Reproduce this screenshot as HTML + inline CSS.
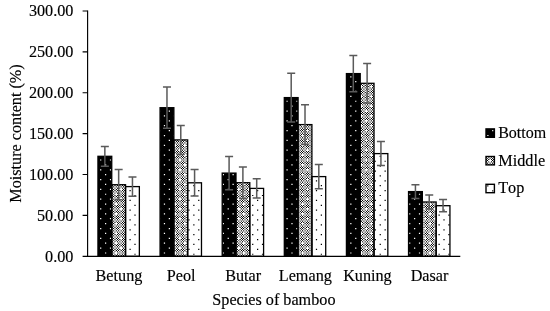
<!DOCTYPE html>
<html><head><meta charset="utf-8"><title>Moisture content by species of bamboo</title>
<style>html,body{margin:0;padding:0;background:#fff}svg{display:block}</style></head>
<body>
<svg width="550" height="311" viewBox="0 0 550 311">
<rect width="550" height="311" fill="#fff"/>
<defs><clipPath id="c0"><rect x="97.95" y="156.3" width="13.8" height="100"/></clipPath><clipPath id="c1"><rect x="111.76" y="184.7" width="13.8" height="71.6"/></clipPath><clipPath id="c2"><rect x="125.56" y="186.6" width="13.8" height="69.7"/></clipPath><clipPath id="c3"><rect x="160.07" y="107.7" width="13.8" height="148.6"/></clipPath><clipPath id="c4"><rect x="173.87" y="139.9" width="13.8" height="116.4"/></clipPath><clipPath id="c5"><rect x="187.68" y="182.8" width="13.8" height="73.5"/></clipPath><clipPath id="c6"><rect x="222.19" y="173.1" width="13.8" height="83.2"/></clipPath><clipPath id="c7"><rect x="235.99" y="182.7" width="13.8" height="73.6"/></clipPath><clipPath id="c8"><rect x="249.79" y="188.4" width="13.8" height="67.9"/></clipPath><clipPath id="c9"><rect x="284.3" y="97.6" width="13.8" height="158.7"/></clipPath><clipPath id="c10"><rect x="298.11" y="124.6" width="13.8" height="131.7"/></clipPath><clipPath id="c11"><rect x="311.91" y="176.6" width="13.8" height="79.7"/></clipPath><clipPath id="c12"><rect x="346.42" y="73.6" width="13.8" height="182.7"/></clipPath><clipPath id="c13"><rect x="360.22" y="83.3" width="13.8" height="173"/></clipPath><clipPath id="c14"><rect x="374.03" y="153.6" width="13.8" height="102.7"/></clipPath><clipPath id="c15"><rect x="408.54" y="191.6" width="13.8" height="64.7"/></clipPath><clipPath id="c16"><rect x="422.34" y="202" width="13.8" height="54.3"/></clipPath><clipPath id="c17"><rect x="436.14" y="205.7" width="13.8" height="50.6"/></clipPath><clipPath id="l0"><rect x="486" y="128.9" width="8.4" height="8.4"/></clipPath><clipPath id="l1"><rect x="486" y="156.5" width="8.4" height="8.4"/></clipPath><clipPath id="l2"><rect x="486" y="184.3" width="8.4" height="8.4"/></clipPath><filter id="ct" filterUnits="userSpaceOnUse" x="0" y="0" width="550" height="311" color-interpolation-filters="sRGB"><feComponentTransfer><feFuncR type="linear" slope="1.8" intercept="-0.28"/><feFuncG type="linear" slope="1.8" intercept="-0.28"/><feFuncB type="linear" slope="1.8" intercept="-0.28"/></feComponentTransfer></filter></defs>
<rect x="97.95" y="156.3" width="13.8" height="100" fill="#000"/>
<g clip-path="url(#c0)" stroke-width="1.2263" fill="none"><path d="M105.6 154.4881V256.3" stroke="#fff" stroke-dasharray="1.2237 8.5663"/><path d="M100.695 154.4881V256.3M110.505 154.4881V256.3" stroke="#fff" stroke-dasharray="1.2237 8.5663" stroke-dashoffset="4.895"/></g>
<g filter="url(#ct)"><rect x="111.76" y="184.7" width="13.8" height="71.6" fill="#fff"/><g clip-path="url(#c1)" stroke-width="1.2263" fill="none"><path d="M113.7675 183.8581V256.3M118.6725 183.8581V256.3M123.5775 183.8581V256.3" stroke="#000" stroke-dasharray="1.2237 1.2237"/><path d="M112.5412 183.8581V256.3M114.9937 183.8581V256.3M117.4462 183.8581V256.3M119.8987 183.8581V256.3M122.3512 183.8581V256.3M124.8037 183.8581V256.3" stroke="#000" stroke-dasharray="1.2237 1.2237" stroke-dashoffset="1.2237"/><path d="M116.22 183.8581V256.3M126.03 183.8581V256.3" stroke="#000" stroke-dasharray="1.2237 1.2237 1.2237 1.2237 1.2237 3.6712" stroke-dashoffset="7.3425"/><path d="M111.315 183.8581V256.3M121.125 183.8581V256.3" stroke="#000" stroke-dasharray="1.2237 1.2237 1.2237 1.2237 1.2237 3.6712" stroke-dashoffset="2.4475"/></g></g>
<rect x="125.56" y="186.6" width="13.8" height="69.7" fill="#fff"/>
<g clip-path="url(#c2)" stroke-width="1.2263" fill="none"><path d="M125.19 185.1081V256.3M135 185.1081V256.3" stroke="#000" stroke-dasharray="1.2237 8.5663"/><path d="M130.095 185.1081V256.3M139.905 185.1081V256.3" stroke="#000" stroke-dasharray="1.2237 8.5663" stroke-dashoffset="4.895"/></g>
<rect x="97.95" y="156.3" width="13.8" height="100" fill="none" stroke="#000" stroke-width="1.3"/>
<rect x="111.76" y="184.7" width="13.8" height="71.6" fill="none" stroke="#000" stroke-width="1.3"/>
<rect x="125.56" y="186.6" width="13.8" height="69.7" fill="none" stroke="#000" stroke-width="1.3"/>
<path d="M104.85 146.45V166.15M100.85 146.45h8M100.85 166.15h8" stroke="#5a5a5a" stroke-width="1.5" fill="none"/>
<path d="M118.66 169.6V199.8M114.66 169.6h8M114.66 199.8h8" stroke="#5a5a5a" stroke-width="1.5" fill="none"/>
<path d="M132.46 177V196.2M128.46 177h8M128.46 196.2h8" stroke="#5a5a5a" stroke-width="1.5" fill="none"/>
<rect x="160.07" y="107.7" width="13.8" height="148.6" fill="#000"/>
<g clip-path="url(#c3)" stroke-width="1.2263" fill="none"><path d="M164.46 105.5381V256.3M174.27 105.5381V256.3" stroke="#fff" stroke-dasharray="1.2237 8.5663"/><path d="M159.555 105.5381V256.3M169.365 105.5381V256.3" stroke="#fff" stroke-dasharray="1.2237 8.5663" stroke-dashoffset="4.895"/></g>
<g filter="url(#ct)"><rect x="173.87" y="139.9" width="13.8" height="116.4" fill="#fff"/><g clip-path="url(#c4)" stroke-width="1.2263" fill="none"><path d="M177.5325 134.9081V256.3M182.4375 134.9081V256.3M187.3425 134.9081V256.3" stroke="#000" stroke-dasharray="1.2237 1.2237"/><path d="M173.8538 134.9081V256.3M176.3063 134.9081V256.3M178.7588 134.9081V256.3M181.2113 134.9081V256.3M183.6638 134.9081V256.3M186.1163 134.9081V256.3" stroke="#000" stroke-dasharray="1.2237 1.2237" stroke-dashoffset="1.2237"/><path d="M175.08 134.9081V256.3M184.89 134.9081V256.3" stroke="#000" stroke-dasharray="1.2237 1.2237 1.2237 1.2237 1.2237 3.6712" stroke-dashoffset="7.3425"/><path d="M179.985 134.9081V256.3" stroke="#000" stroke-dasharray="1.2237 1.2237 1.2237 1.2237 1.2237 3.6712" stroke-dashoffset="2.4475"/></g></g>
<rect x="187.68" y="182.8" width="13.8" height="73.5" fill="#fff"/>
<g clip-path="url(#c5)" stroke-width="1.2263" fill="none"><path d="M193.86 175.3181V256.3" stroke="#000" stroke-dasharray="1.2237 8.5663"/><path d="M188.955 175.3181V256.3M198.765 175.3181V256.3" stroke="#000" stroke-dasharray="1.2237 8.5663" stroke-dashoffset="4.895"/></g>
<rect x="160.07" y="107.7" width="13.8" height="148.6" fill="none" stroke="#000" stroke-width="1.3"/>
<rect x="173.87" y="139.9" width="13.8" height="116.4" fill="none" stroke="#000" stroke-width="1.3"/>
<rect x="187.68" y="182.8" width="13.8" height="73.5" fill="none" stroke="#000" stroke-width="1.3"/>
<path d="M166.97 87.1V128.3M162.97 87.1h8M162.97 128.3h8" stroke="#5a5a5a" stroke-width="1.5" fill="none"/>
<path d="M180.78 125.4V154.4M176.78 125.4h8M176.78 154.4h8" stroke="#5a5a5a" stroke-width="1.5" fill="none"/>
<path d="M194.58 169.6V196M190.58 169.6h8M190.58 196h8" stroke="#5a5a5a" stroke-width="1.5" fill="none"/>
<rect x="222.19" y="173.1" width="13.8" height="83.2" fill="#000"/>
<g clip-path="url(#c6)" stroke-width="1.2263" fill="none"><path d="M223.32 164.2781V256.3M233.13 164.2781V256.3" stroke="#fff" stroke-dasharray="1.2237 8.5663"/><path d="M228.225 164.2781V256.3" stroke="#fff" stroke-dasharray="1.2237 8.5663" stroke-dashoffset="4.895"/></g>
<g filter="url(#ct)"><rect x="235.99" y="182.7" width="13.8" height="73.6" fill="#fff"/><g clip-path="url(#c7)" stroke-width="1.2263" fill="none"><path d="M236.3925 174.0681V256.3M241.2975 174.0681V256.3M246.2025 174.0681V256.3" stroke="#000" stroke-dasharray="1.2237 1.2237"/><path d="M237.6188 174.0681V256.3M240.0713 174.0681V256.3M242.5238 174.0681V256.3M244.9763 174.0681V256.3M247.4288 174.0681V256.3M249.8813 174.0681V256.3" stroke="#000" stroke-dasharray="1.2237 1.2237" stroke-dashoffset="1.2237"/><path d="M243.75 174.0681V256.3" stroke="#000" stroke-dasharray="1.2237 1.2237 1.2237 1.2237 1.2237 3.6712" stroke-dashoffset="7.3425"/><path d="M238.845 174.0681V256.3M248.655 174.0681V256.3" stroke="#000" stroke-dasharray="1.2237 1.2237 1.2237 1.2237 1.2237 3.6712" stroke-dashoffset="2.4475"/></g></g>
<rect x="249.79" y="188.4" width="13.8" height="67.9" fill="#fff"/>
<g clip-path="url(#c8)" stroke-width="1.2263" fill="none"><path d="M252.72 185.1081V256.3M262.53 185.1081V256.3" stroke="#000" stroke-dasharray="1.2237 8.5663"/><path d="M257.625 185.1081V256.3" stroke="#000" stroke-dasharray="1.2237 8.5663" stroke-dashoffset="4.895"/></g>
<rect x="222.19" y="173.1" width="13.8" height="83.2" fill="none" stroke="#000" stroke-width="1.3"/>
<rect x="235.99" y="182.7" width="13.8" height="73.6" fill="none" stroke="#000" stroke-width="1.3"/>
<rect x="249.79" y="188.4" width="13.8" height="67.9" fill="none" stroke="#000" stroke-width="1.3"/>
<path d="M229.09 156.4V189.8M225.09 156.4h8M225.09 189.8h8" stroke="#5a5a5a" stroke-width="1.5" fill="none"/>
<path d="M242.89 167V198.4M238.89 167h8M238.89 198.4h8" stroke="#5a5a5a" stroke-width="1.5" fill="none"/>
<path d="M256.7 178.7V198.1M252.7 178.7h8M252.7 198.1h8" stroke="#5a5a5a" stroke-width="1.5" fill="none"/>
<rect x="284.3" y="97.6" width="13.8" height="158.7" fill="#000"/>
<g clip-path="url(#c9)" stroke-width="1.2263" fill="none"><path d="M291.99 95.7481V256.3" stroke="#fff" stroke-dasharray="1.2237 8.5663"/><path d="M287.085 95.7481V256.3M296.895 95.7481V256.3" stroke="#fff" stroke-dasharray="1.2237 8.5663" stroke-dashoffset="4.895"/></g>
<g filter="url(#ct)"><rect x="298.11" y="124.6" width="13.8" height="131.7" fill="#fff"/><g clip-path="url(#c10)" stroke-width="1.2263" fill="none"><path d="M300.1575 115.3281V256.3M305.0625 115.3281V256.3M309.9675 115.3281V256.3" stroke="#000" stroke-dasharray="1.2237 1.2237"/><path d="M298.9312 115.3281V256.3M301.3838 115.3281V256.3M303.8363 115.3281V256.3M306.2887 115.3281V256.3M308.7412 115.3281V256.3M311.1937 115.3281V256.3" stroke="#000" stroke-dasharray="1.2237 1.2237" stroke-dashoffset="1.2237"/><path d="M302.61 115.3281V256.3M312.42 115.3281V256.3" stroke="#000" stroke-dasharray="1.2237 1.2237 1.2237 1.2237 1.2237 3.6712" stroke-dashoffset="7.3425"/><path d="M297.705 115.3281V256.3M307.515 115.3281V256.3" stroke="#000" stroke-dasharray="1.2237 1.2237 1.2237 1.2237 1.2237 3.6712" stroke-dashoffset="2.4475"/></g></g>
<rect x="311.91" y="176.6" width="13.8" height="79.7" fill="#fff"/>
<g clip-path="url(#c11)" stroke-width="1.2263" fill="none"><path d="M311.58 175.3181V256.3M321.39 175.3181V256.3" stroke="#000" stroke-dasharray="1.2237 8.5663"/><path d="M316.485 175.3181V256.3M326.295 175.3181V256.3" stroke="#000" stroke-dasharray="1.2237 8.5663" stroke-dashoffset="4.895"/></g>
<rect x="284.3" y="97.6" width="13.8" height="158.7" fill="none" stroke="#000" stroke-width="1.3"/>
<rect x="298.11" y="124.6" width="13.8" height="131.7" fill="none" stroke="#000" stroke-width="1.3"/>
<rect x="311.91" y="176.6" width="13.8" height="79.7" fill="none" stroke="#000" stroke-width="1.3"/>
<path d="M291.2 73.2V122M287.2 73.2h8M287.2 122h8" stroke="#5a5a5a" stroke-width="1.5" fill="none"/>
<path d="M305.01 104.8V144.4M301.01 104.8h8M301.01 144.4h8" stroke="#5a5a5a" stroke-width="1.5" fill="none"/>
<path d="M318.81 164.4V188.8M314.81 164.4h8M314.81 188.8h8" stroke="#5a5a5a" stroke-width="1.5" fill="none"/>
<rect x="346.42" y="73.6" width="13.8" height="182.7" fill="#000"/>
<g clip-path="url(#c12)" stroke-width="1.2263" fill="none"><path d="M350.85 66.3781V256.3M360.66 66.3781V256.3" stroke="#fff" stroke-dasharray="1.2237 8.5663"/><path d="M345.945 66.3781V256.3M355.755 66.3781V256.3" stroke="#fff" stroke-dasharray="1.2237 8.5663" stroke-dashoffset="4.895"/></g>
<g filter="url(#ct)"><rect x="360.22" y="83.3" width="13.8" height="173" fill="#fff"/><g clip-path="url(#c13)" stroke-width="1.2263" fill="none"><path d="M363.9225 76.1681V256.3M368.8275 76.1681V256.3M373.7325 76.1681V256.3" stroke="#000" stroke-dasharray="1.2237 1.2237"/><path d="M360.2437 76.1681V256.3M362.6963 76.1681V256.3M365.1488 76.1681V256.3M367.6012 76.1681V256.3M370.0537 76.1681V256.3M372.5063 76.1681V256.3" stroke="#000" stroke-dasharray="1.2237 1.2237" stroke-dashoffset="1.2237"/><path d="M361.47 76.1681V256.3M371.28 76.1681V256.3" stroke="#000" stroke-dasharray="1.2237 1.2237 1.2237 1.2237 1.2237 3.6712" stroke-dashoffset="7.3425"/><path d="M366.375 76.1681V256.3" stroke="#000" stroke-dasharray="1.2237 1.2237 1.2237 1.2237 1.2237 3.6712" stroke-dashoffset="2.4475"/></g></g>
<rect x="374.03" y="153.6" width="13.8" height="102.7" fill="#fff"/>
<g clip-path="url(#c14)" stroke-width="1.2263" fill="none"><path d="M380.25 145.9481V256.3" stroke="#000" stroke-dasharray="1.2237 8.5663"/><path d="M375.345 145.9481V256.3M385.155 145.9481V256.3" stroke="#000" stroke-dasharray="1.2237 8.5663" stroke-dashoffset="4.895"/></g>
<rect x="346.42" y="73.6" width="13.8" height="182.7" fill="none" stroke="#000" stroke-width="1.3"/>
<rect x="360.22" y="83.3" width="13.8" height="173" fill="none" stroke="#000" stroke-width="1.3"/>
<rect x="374.03" y="153.6" width="13.8" height="102.7" fill="none" stroke="#000" stroke-width="1.3"/>
<path d="M353.32 55.4V91.8M349.32 55.4h8M349.32 91.8h8" stroke="#5a5a5a" stroke-width="1.5" fill="none"/>
<path d="M367.12 63.5V103.1M363.12 63.5h8M363.12 103.1h8" stroke="#5a5a5a" stroke-width="1.5" fill="none"/>
<path d="M380.93 141.6V165.6M376.93 141.6h8M376.93 165.6h8" stroke="#5a5a5a" stroke-width="1.5" fill="none"/>
<rect x="408.54" y="191.6" width="13.8" height="64.7" fill="#000"/>
<g clip-path="url(#c15)" stroke-width="1.2263" fill="none"><path d="M409.71 183.8581V256.3M419.52 183.8581V256.3" stroke="#fff" stroke-dasharray="1.2237 8.5663"/><path d="M414.615 183.8581V256.3" stroke="#fff" stroke-dasharray="1.2237 8.5663" stroke-dashoffset="4.895"/></g>
<g filter="url(#ct)"><rect x="422.34" y="202" width="13.8" height="54.3" fill="#fff"/><g clip-path="url(#c16)" stroke-width="1.2263" fill="none"><path d="M422.7825 193.6481V256.3M427.6875 193.6481V256.3M432.5925 193.6481V256.3" stroke="#000" stroke-dasharray="1.2237 1.2237"/><path d="M424.0088 193.6481V256.3M426.4613 193.6481V256.3M428.9137 193.6481V256.3M431.3662 193.6481V256.3M433.8188 193.6481V256.3M436.2713 193.6481V256.3" stroke="#000" stroke-dasharray="1.2237 1.2237" stroke-dashoffset="1.2237"/><path d="M430.14 193.6481V256.3" stroke="#000" stroke-dasharray="1.2237 1.2237 1.2237 1.2237 1.2237 3.6712" stroke-dashoffset="7.3425"/><path d="M425.235 193.6481V256.3M435.045 193.6481V256.3" stroke="#000" stroke-dasharray="1.2237 1.2237 1.2237 1.2237 1.2237 3.6712" stroke-dashoffset="2.4475"/></g></g>
<rect x="436.14" y="205.7" width="13.8" height="50.6" fill="#fff"/>
<g clip-path="url(#c17)" stroke-width="1.2263" fill="none"><path d="M439.11 204.6881V256.3M448.92 204.6881V256.3" stroke="#000" stroke-dasharray="1.2237 8.5663"/><path d="M444.015 204.6881V256.3" stroke="#000" stroke-dasharray="1.2237 8.5663" stroke-dashoffset="4.895"/></g>
<rect x="408.54" y="191.6" width="13.8" height="64.7" fill="none" stroke="#000" stroke-width="1.3"/>
<rect x="422.34" y="202" width="13.8" height="54.3" fill="none" stroke="#000" stroke-width="1.3"/>
<rect x="436.14" y="205.7" width="13.8" height="50.6" fill="none" stroke="#000" stroke-width="1.3"/>
<path d="M415.44 184.8V198.4M411.44 184.8h8M411.44 198.4h8" stroke="#5a5a5a" stroke-width="1.5" fill="none"/>
<path d="M429.24 195.1V208.9M425.24 195.1h8M425.24 208.9h8" stroke="#5a5a5a" stroke-width="1.5" fill="none"/>
<path d="M443.05 199.6V211.8M439.05 199.6h8M439.05 211.8h8" stroke="#5a5a5a" stroke-width="1.5" fill="none"/>
<rect x="486" y="128.9" width="8.4" height="8.4" fill="#000"/>
<g clip-path="url(#l0)" stroke-width="1.2263" fill="none"><path d="M492.8 120.1981V137.3" stroke="#fff" stroke-dasharray="1.2237 8.5663"/><path d="M487.895 120.1981V137.3" stroke="#fff" stroke-dasharray="1.2237 8.5663" stroke-dashoffset="4.895"/></g>
<rect x="486" y="128.9" width="8.4" height="8.4" fill="none" stroke="#000" stroke-width="1.4"/>
<g filter="url(#ct)"><rect x="486" y="156.5" width="8.4" height="8.4" fill="#fff"/><g clip-path="url(#l1)" stroke-width="1.2263" fill="none"><path d="M487.6475 150.2981V164.9M492.5525 150.2981V164.9" stroke="#000" stroke-dasharray="1.2237 1.2237"/><path d="M486.4213 150.2981V164.9M488.8738 150.2981V164.9M491.3263 150.2981V164.9M493.7788 150.2981V164.9" stroke="#000" stroke-dasharray="1.2237 1.2237" stroke-dashoffset="1.2237"/><path d="M490.1 150.2981V164.9" stroke="#000" stroke-dasharray="1.2237 1.2237 1.2237 1.2237 1.2237 3.6712" stroke-dashoffset="7.3425"/><path d="M495.005 150.2981V164.9" stroke="#000" stroke-dasharray="1.2237 1.2237 1.2237 1.2237 1.2237 3.6712" stroke-dashoffset="2.4475"/></g></g>
<rect x="486" y="156.5" width="8.4" height="8.4" fill="none" stroke="#000" stroke-width="1.4"/>
<rect x="486" y="184.3" width="8.4" height="8.4" fill="#fff"/>
<g clip-path="url(#l2)" stroke-width="1.2263" fill="none"><path d="M487.8 175.4981V192.7" stroke="#000" stroke-dasharray="1.2237 8.5663"/><path d="M492.705 175.4981V192.7" stroke="#000" stroke-dasharray="1.2237 8.5663" stroke-dashoffset="4.895"/></g>
<rect x="486" y="184.3" width="8.4" height="8.4" fill="none" stroke="#000" stroke-width="1.4"/>
<path d="M87.6 10.4V256.3M82.6 256.3H460.3" stroke="#000" stroke-width="1.15" fill="none"/>
<path d="M82.6 215.42H87.6M82.6 174.53H87.6M82.6 133.65H87.6M82.6 92.77H87.6M82.6 51.88H87.6M82.6 11H87.6" stroke="#000" stroke-width="1.15" fill="none"/>
<g font-family="'Liberation Serif', 'Times New Roman', serif" font-size="16.2" fill="#000" stroke="#000" stroke-width="0.15" style="font-kerning:none">
<text x="73.4" y="261.5" text-anchor="end">0.00</text>
<text x="73.4" y="220.62" text-anchor="end">50.00</text>
<text x="73.4" y="179.73" text-anchor="end">100.00</text>
<text x="73.4" y="138.85" text-anchor="end">150.00</text>
<text x="73.4" y="97.97" text-anchor="end">200.00</text>
<text x="73.4" y="57.08" text-anchor="end">250.00</text>
<text x="73.4" y="16.2" text-anchor="end">300.00</text>
<text x="118.96" y="280.6" text-anchor="middle">Betung</text>
<text x="181.08" y="280.6" text-anchor="middle">Peol</text>
<text x="243.19" y="280.6" text-anchor="middle">Butar</text>
<text x="305.31" y="280.6" text-anchor="middle">Lemang</text>
<text x="367.43" y="280.6" text-anchor="middle">Kuning</text>
<text x="429.54" y="280.6" text-anchor="middle">Dasar</text>
<text x="273.9" y="304.5" text-anchor="middle" >Species of bamboo</text>
<text transform="translate(20.5 133.5) rotate(-90)" text-anchor="middle">Moisture content (%)</text>
<text x="498.2" y="138.1" font-size="16">Bottom</text>
<text x="498.2" y="165.5" font-size="16.3">Middle</text>
<text x="498.2" y="192.9" font-size="16.2">Top</text>
</g></svg>
</body></html>
